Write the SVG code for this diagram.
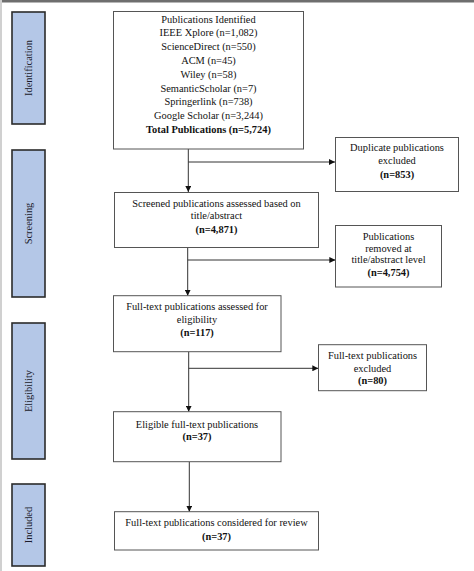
<svg xmlns="http://www.w3.org/2000/svg" width="474" height="571" viewBox="0 0 474 571">
<style>
.bg{fill:#ffffff}
.side{fill:#b4c7e7;stroke:#2b2b2b;stroke-width:1.6}
.box{fill:#ffffff;stroke:#555555;stroke-width:1}
.t{font-family:"Liberation Serif","Times New Roman",serif;font-size:10.4px;fill:#111111;text-anchor:middle}
.b{font-weight:bold}
.st{font-family:"Liberation Serif","Times New Roman",serif;font-size:10.4px;fill:#1a1a2a;text-anchor:middle}
.ln{stroke:#333333;stroke-width:1;fill:none}
</style>
<defs>
<marker id="ah" markerWidth="6" markerHeight="6" refX="6" refY="3" orient="auto" markerUnits="userSpaceOnUse">
<path d="M0,0 L6,3 L0,6 Z" fill="#111111"/>
</marker>
</defs>
<rect class="bg" x="0" y="0" width="474" height="571"/>
<rect x="0" y="0" width="474" height="2.5" fill="#6e6e6e"/>
<rect x="0" y="0" width="2" height="571" fill="#d0d0d0"/>

<g id="stage-identification">
<rect class="side" x="12" y="12" width="33" height="112"/>
<text class="st" transform="translate(32,68) rotate(-90)">Identification</text>
</g>
<g id="stage-screening">
<rect class="side" x="12" y="150" width="33" height="147"/>
<text class="st" transform="translate(32,223.5) rotate(-90)">Screening</text>
</g>
<g id="stage-eligibility">
<rect class="side" x="12" y="323" width="33" height="136"/>
<text class="st" transform="translate(32,391) rotate(-90)">Eligibility</text>
</g>
<g id="stage-included">
<rect class="side" x="12" y="484" width="33" height="82"/>
<text class="st" transform="translate(32,525) rotate(-90)">Included</text>
</g>

<g id="connectors">
<line class="ln" x1="188.3" y1="149" x2="188.3" y2="192" marker-end="url(#ah)"/>
<line class="ln" x1="188.3" y1="162" x2="335" y2="162" marker-end="url(#ah)"/>
<line class="ln" x1="187.7" y1="247.7" x2="187.7" y2="295.7" marker-end="url(#ah)"/>
<line class="ln" x1="187.7" y1="260" x2="335.3" y2="260" marker-end="url(#ah)"/>
<line class="ln" x1="188.7" y1="351.7" x2="188.7" y2="411.7" marker-end="url(#ah)"/>
<line class="ln" x1="188.7" y1="368.3" x2="318.3" y2="368.3" marker-end="url(#ah)"/>
<line class="ln" x1="189.3" y1="461.7" x2="189.3" y2="511.7" marker-end="url(#ah)"/>
</g>

<g id="identified">
<rect class="box" x="113.5" y="11.5" width="190" height="137.5"/>
<text class="t" x="208.5" y="22.5">Publications Identified</text>
<text class="t" x="208.5" y="36.3">IEEE Xplore (n=1,082)</text>
<text class="t" x="208.5" y="50.2">ScienceDirect (n=550)</text>
<text class="t" x="208.5" y="63.9">ACM (n=45)</text>
<text class="t" x="208.5" y="77.6">Wiley (n=58)</text>
<text class="t" x="208.5" y="91.5">SemanticScholar (n=7)</text>
<text class="t" x="208.5" y="105.2">Springerlink (n=738)</text>
<text class="t" x="208.5" y="118.9">Google Scholar (n=3,244)</text>
<text class="t b" x="208.5" y="132.6">Total Publications (n=5,724)</text>
</g>

<g id="duplicates">
<rect class="box" x="335.5" y="137.5" width="123" height="54"/>
<text class="t" x="397" y="151.2">Duplicate publications</text>
<text class="t" x="397" y="164.2">excluded</text>
<text class="t b" x="397" y="177.5">(n=853)</text>
</g>

<g id="screened">
<rect class="box" x="114.5" y="192.5" width="204" height="55"/>
<text class="t" x="216.5" y="206.8">Screened publications assessed based on</text>
<text class="t" x="216.5" y="219.2">title/abstract</text>
<text class="t b" x="216.5" y="232.8">(n=4,871)</text>
</g>

<g id="removed">
<rect class="box" x="335.5" y="225.5" width="106" height="61.5"/>
<text class="t" x="388.5" y="239.5">Publications</text>
<text class="t" x="388.5" y="251.8">removed at</text>
<text class="t" x="388.5" y="262.5">title/abstract level</text>
<text class="t b" x="388.5" y="275.5">(n=4,754)</text>
</g>

<g id="fulltext">
<rect class="box" x="113.5" y="295.7" width="167.5" height="56"/>
<text class="t" x="197" y="310.2">Full-text publications assessed for</text>
<text class="t" x="197" y="322.5">eligibility</text>
<text class="t b" x="197" y="336.2">(n=117)</text>
</g>

<g id="ft-excluded">
<rect class="box" x="318.5" y="344.7" width="108" height="46"/>
<text class="t" x="372.5" y="358.5">Full-text publications</text>
<text class="t" x="372.5" y="371.8">excluded</text>
<text class="t b" x="372.5" y="384.2">(n=80)</text>
</g>

<g id="eligible">
<rect class="box" x="113.5" y="411.7" width="167.5" height="50"/>
<text class="t" x="197" y="427.5">Eligible full-text publications</text>
<text class="t b" x="197" y="439.5">(n=37)</text>
</g>

<g id="included">
<rect class="box" x="114.5" y="511.7" width="204" height="38.3"/>
<text class="t" x="216.5" y="526.2">Full-text publications considered for review</text>
<text class="t b" x="216.5" y="539.5">(n=37)</text>
</g>
</svg>
